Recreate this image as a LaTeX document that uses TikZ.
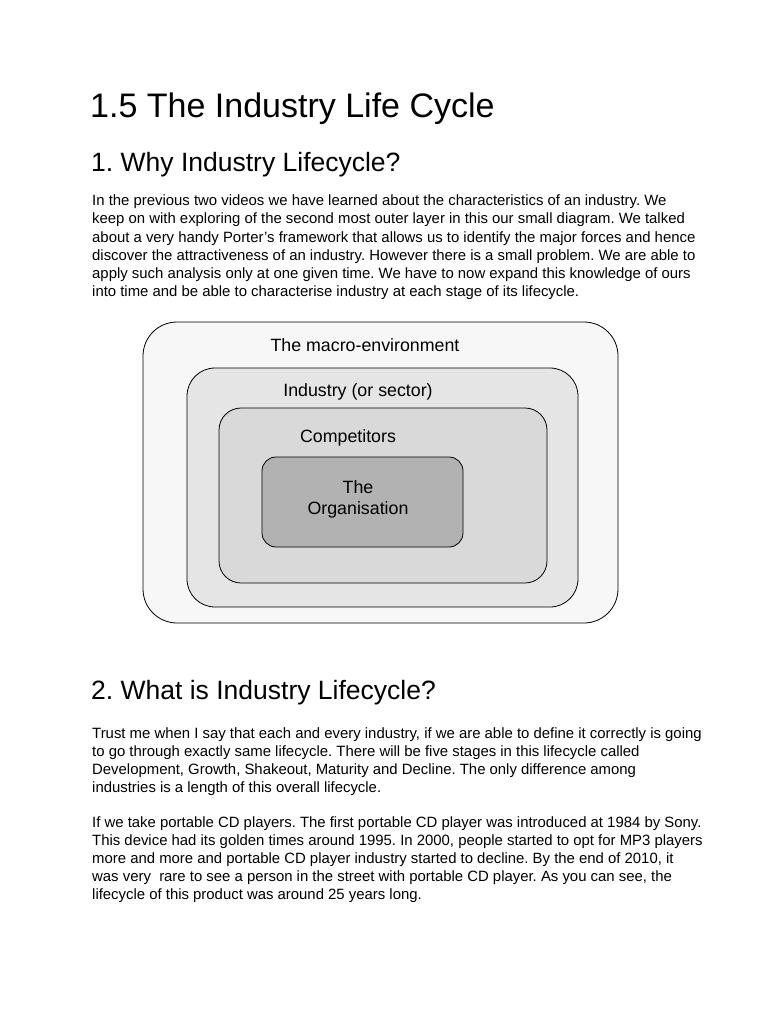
\documentclass[tikz,border=0pt]{standalone}
\usepackage{fontspec}
\setmainfont{Liberation Sans}
\begin{document}
\frenchspacing
\begin{tikzpicture}[x=1pt,y=-1pt,
  body/.style={anchor=base west,inner sep=0pt,font=\fontsize{14.9}{17}\selectfont},
  layer/.style={draw=black,line width=0.8pt,rounded corners=34pt},
  lab/.style={inner sep=0pt,font=\fontsize{17.8}{21}\selectfont,align=center}]
\useasboundingbox[fill=white] (0,0) rectangle (768,1024);
\node[anchor=base west,inner sep=0pt,font=\fontsize{34}{40}\selectfont] (title) at (90,118) {1.5 The Industry Life Cycle};
\node[anchor=base west,inner sep=0pt,font=\fontsize{26.5}{30}\selectfont] (h1) at (91,172) {1. Why Industry Lifecycle?};
\node[body] (p1) at (92,206) {In the previous two videos we have learned about the characteristics of an industry. We};
\node[body] (p2) at (92,224) {keep on with exploring of the second most outer layer in this our small diagram. We talked};
\node[body] (p3) at (92,242) {about a very handy Porter's framework that allows us to identify the major forces and hence};
\node[body] (p4) at (92,260) {discover the attractiveness of an industry. However there is a small problem. We are able to};
\node[body] (p5) at (92,278) {apply such analysis only at one given time. We have to now expand this knowledge of ours};
\node[body] (p6) at (92,296) {into time and be able to characterise industry at each stage of its lifecycle.};
\draw[layer,fill=black!3] (143,322) rectangle (618,623);
\draw[layer,fill=black!10,rounded corners=28pt] (187,368) rectangle (578,607);
\draw[layer,fill=black!15,rounded corners=22pt] (219,408) rectangle (547,583);
\draw[layer,fill=black!30,rounded corners=14pt] (262,457) rectangle (463,547);
\node[lab] (macro) at (365,345) {The macro-environment};
\node[lab] (ind) at (358,392) {Industry (or sector)};
\node[lab] (comp) at (348,438) {Competitors};
\node[lab] (org) at (358,499) {The\\Organisation};
\node[anchor=base west,inner sep=0pt,font=\fontsize{26.5}{30}\selectfont] (h2) at (91,699) {2. What is Industry Lifecycle?};
\node[body] (q1) at (92,738) {Trust me when I say that each and every industry, if we are able to define it correctly is going};
\node[body] (q2) at (92,756) {to go through exactly same lifecycle. There will be five stages in this lifecycle called};
\node[body] (q3) at (92,774) {Development, Growth, Shakeout, Maturity and Decline. The only difference among};
\node[body] (q4) at (92,792) {industries is a length of this overall lifecycle.};
\node[body] (r1) at (92,827) {If we take portable CD players. The first portable CD player was introduced at 1984 by Sony.};
\node[body] (r2) at (92,845) {This device had its golden times around 1995. In 2000, people started to opt for MP3 players};
\node[body] (r3) at (92,863) {more and more and portable CD player industry started to decline. By the end of 2010, it};
\node[body] (r4) at (92,881) {was very\ \ rare to see a person in the street with portable CD player. As you can see, the};
\node[body] (r5) at (92,899) {lifecycle of this product was around 25 years long.};
\end{tikzpicture}
\end{document}
